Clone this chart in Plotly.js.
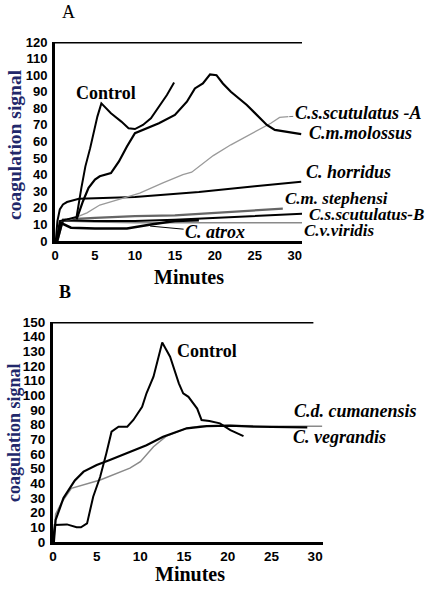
<!DOCTYPE html>
<html>
<head>
<meta charset="utf-8">
<script src="https://cdn.plot.ly/plotly-3.0.1.min.js"></script>
<style>
  html, body { margin: 0; padding: 0; background: #fff; }
  #chart { width: 437px; height: 589px; }
</style>
</head>
<body>
<div id="chart"></div>
<script>
// panel A
const controlAX = [0.2, 0.6, 1.5, 2.7, 3.3, 3.8, 4.4, 4.8, 5.3, 5.8, 7, 8.3, 9.2, 10, 11, 12, 12.7, 14, 14.9];
const controlAY = [0, 12, 13, 14.5, 32, 45, 56, 65, 75, 83, 77, 72, 68, 67.5, 70, 74, 79, 88, 95.6];
const molossusX = [2.7, 3.5, 4.2, 5, 5.6, 7, 8, 9, 10, 11, 13, 15, 16.5, 17.5, 18.5, 19.4, 20.2, 21, 22, 24, 25.6, 26.5, 27.5, 29, 30.8];
const molossusY = [13, 24, 32, 37, 39, 41, 48, 57, 65, 67, 71, 76, 84, 92, 95, 100.5, 100, 95, 90, 82, 74, 70, 67, 66, 64.5];
const scutAX = [0.5, 2, 4, 5.6, 7.7, 10.6, 13.5, 16, 17.1, 19.8, 22, 24.8, 27, 28.1, 29.2];
const scutAY = [12, 13, 17, 21.7, 24.7, 28.9, 35, 40, 41.5, 51.5, 58, 65, 71, 74.5, 75];
const horridusX = [0.1, 0.3, 0.6, 1, 1.5, 3, 10, 18, 25, 30.8];
const horridusY = [0, 12, 19, 22, 23.5, 25.5, 26.5, 29.5, 33, 35.7];
const stephensiX = [0.3, 1, 5, 10, 15, 20, 25, 28.5];
const stephensiY = [0, 13, 14, 15, 15.5, 17, 18.5, 19.5];
const scutBX = [0.3, 1, 5, 10, 15, 20, 25, 31];
const scutBY = [0, 12.5, 12, 12, 12.8, 14, 15, 16.5];
const viridisX = [0.2, 1, 5, 10, 20, 31];
const viridisY = [0, 12, 11.5, 11, 11, 11];
const atroxX = [0.2, 0.7, 2, 5, 9, 12, 15, 18];
const atroxY = [0, 11, 8, 7.5, 7.5, 10, 12, 12.5];

// panel B
const controlBX = [0, 0.2, 1.6, 2.7, 3.2, 3.9, 4.6, 5.4, 6.1, 6.7, 7.5, 8.5, 9.2, 10.2, 10.7, 11.5, 12.5, 13.4, 14.4, 14.9, 15.5, 16.5, 17, 17.9, 19.1, 20.3, 21.8];
const controlBY = [0, 11.6, 12, 10, 10, 12.7, 30.9, 44.5, 60.4, 75.2, 78.6, 78.6, 83.2, 92.2, 101.4, 112.7, 136, 126.3, 108.2, 101.4, 99, 91, 83.2, 82.5, 80.9, 76.3, 72.2];
const cumanX = [0.1, 0.3, 1.2, 2.5, 3.5, 5, 6.5, 8.4, 10.7, 12.6, 15.3, 17.6, 20.3, 22.9, 29.1];
const cumanY = [0, 15, 30, 42, 48, 52.5, 55.9, 60.4, 66, 71.8, 77.5, 79, 79.3, 78.6, 78.2];
const vegrandisX = [0.1, 0.3, 1, 2.1, 5.4, 7.3, 8.8, 10, 11.5, 13, 15.3, 16.8, 20, 25, 30.8];
const vegrandisY = [0, 19, 27, 36.6, 42.3, 47, 50.4, 54.8, 65, 72.3, 77.5, 79, 79.5, 79, 79];

const xTicks = [0, 5, 10, 15, 20, 25, 30];
const yTicksA = [0, 10, 20, 30, 40, 50, 60, 70, 80, 90, 100, 110, 120];
const yTicksB = [0, 10, 20, 30, 40, 50, 60, 70, 80, 90, 100, 110, 120, 130, 140, 150];

const W = 437, H = 589;
const px = (x) => x / W;
const py = (y) => 1 - y / H;

function line(x, y, xa, ya, color, width) {
  return { x: x, y: y, xaxis: xa, yaxis: ya, type: "scatter", mode: "lines",
    line: { color: color, width: width, shape: "linear" }, hoverinfo: "skip" };
}

const data = [
  line(viridisX, viridisY, "x", "y", "#8a8a8a", 1.5),
  line(stephensiX, stephensiY, "x", "y", "#666", 2.2),
  line(scutBX, scutBY, "x", "y", "#000", 2),
  line(atroxX, atroxY, "x", "y", "#000", 2.5),
  line(horridusX, horridusY, "x", "y", "#000", 2),
  line(scutAX, scutAY, "x", "y", "#9a9a9a", 1.3),
  line(molossusX, molossusY, "x", "y", "#000", 2.2),
  line(controlAX, controlAY, "x", "y", "#000", 2),
  line(vegrandisX, vegrandisY, "x2", "y2", "#8a8a8a", 1.5),
  line(cumanX, cumanY, "x2", "y2", "#000", 2.2),
  line(controlBX, controlBY, "x2", "y2", "#000", 2),
];

const tickFontA = { family: "Liberation Sans, Arial", size: 13, color: "#000", weight: 700 };
const tickFontB = { family: "Liberation Sans, Arial", size: 13.5, color: "#000", weight: 700 };

function xAxis(domain, anchor, font) {
  return { domain: domain, anchor: anchor, range: [0, 30.9], tickvals: xTicks, ticks: "",
    showgrid: false, zeroline: false, showline: true, linecolor: "#000", linewidth: 3,
    tickfont: font, fixedrange: true };
}
function yAxis(domain, anchor, range, vals, font) {
  return { domain: domain, anchor: anchor, range: range, tickvals: vals, ticks: "",
    showgrid: false, zeroline: false, showline: true, linecolor: "#000", linewidth: 3,
    tickfont: font, fixedrange: true, ticklabelstandoff: 2 };
}

const serif = "Liberation Serif, Times New Roman, serif";
const labelFont = { family: serif, size: 18, color: "#000", weight: 700, style: "italic" };
const smallLabel = Object.assign({}, labelFont, { size: 17 });
const boldFont = { family: serif, size: 18, color: "#000", weight: 700 };
const titleFont = { family: serif, size: 20, color: "#000", weight: 700 };
const yTitleFont = { family: serif, size: 19.5, color: "#22286b", weight: 700 };

function txt(x, y, text, font, extra) {
  return Object.assign({ xref: "paper", yref: "paper", x: px(x), y: py(y), text: text,
    showarrow: false, font: font, xanchor: "center", yanchor: "middle" }, extra || {});
}

const annotations = [
  txt(68, 12, "A", { family: serif, size: 18, color: "#000" }),
  txt(65, 292, "B", { family: serif, size: 18, color: "#000", weight: 700 }),
  txt(189, 277, "Minutes", titleFont),
  txt(190, 574, "Minutes", titleFont),
  txt(14, 145, "coagulation signal", yTitleFont, { textangle: -90 }),
  txt(14, 433, "coagulation signal", Object.assign({}, yTitleFont, { size: 18 }), { textangle: -90 }),
  txt(106, 93, "Control", boldFont),
  txt(207, 351, "Control", boldFont),
  txt(307, 133, "C.m.molossus", labelFont, { xanchor: "left" }),
  txt(304, 172, "C. horridus", labelFont, { xanchor: "left" }),
  txt(283, 199, "C.m. stephensi", smallLabel, { xanchor: "left" }),
  txt(307, 214, "C.s.scutulatus-B", smallLabel, { xanchor: "left" }),
  txt(302, 230, "C.v.viridis", smallLabel, { xanchor: "left" }),
  txt(292, 411, "C.d. cumanensis", labelFont, { xanchor: "left" }),
  txt(291, 437, "C. vegrandis", labelFont, { xanchor: "left" }),
  // labels with leader lines
  { xref: "x", yref: "y", x: 11.9, y: 9, text: "C. atrox", font: labelFont,
    showarrow: true, arrowhead: 0, arrowwidth: 1, arrowcolor: "#000", ax: 65, ay: 6, standoff: 0 },
  { xref: "x", yref: "y", x: 29.3, y: 75, text: "C.s.scutulatus -A", font: labelFont,
    showarrow: true, arrowhead: 0, arrowwidth: 1, arrowcolor: "#777", ax: 69, ay: -4, standoff: 0 },
];

const shapes = [
  // top frame lines
  { type: "line", xref: "x", yref: "y", x0: 0, x1: 30.9, y0: 120, y1: 120, line: { color: "#000", width: 3 } },
  { type: "line", xref: "x2", yref: "y2", x0: 0, x1: 29.8, y0: 150, y1: 150, line: { color: "#000", width: 3 } },
];

const layout = {
  width: W, height: H,
  margin: { l: 0, r: 0, t: 0, b: 0 },
  paper_bgcolor: "#fff", plot_bgcolor: "#fff",
  showlegend: false,
  xaxis: xAxis([px(55), px(302)], "y", tickFontA),
  yaxis: yAxis([py(241), py(42)], "x", [0, 120], yTicksA, tickFontA),
  xaxis2: xAxis([px(53), px(323)], "y2", tickFontB),
  yaxis2: yAxis([py(542), py(322)], "x2", [0, 150], yTicksB, tickFontB),
  annotations: annotations,
  shapes: shapes,
};

Plotly.newPlot("chart", data, layout, { displayModeBar: false, staticPlot: true });
</script>
</body>
</html>
